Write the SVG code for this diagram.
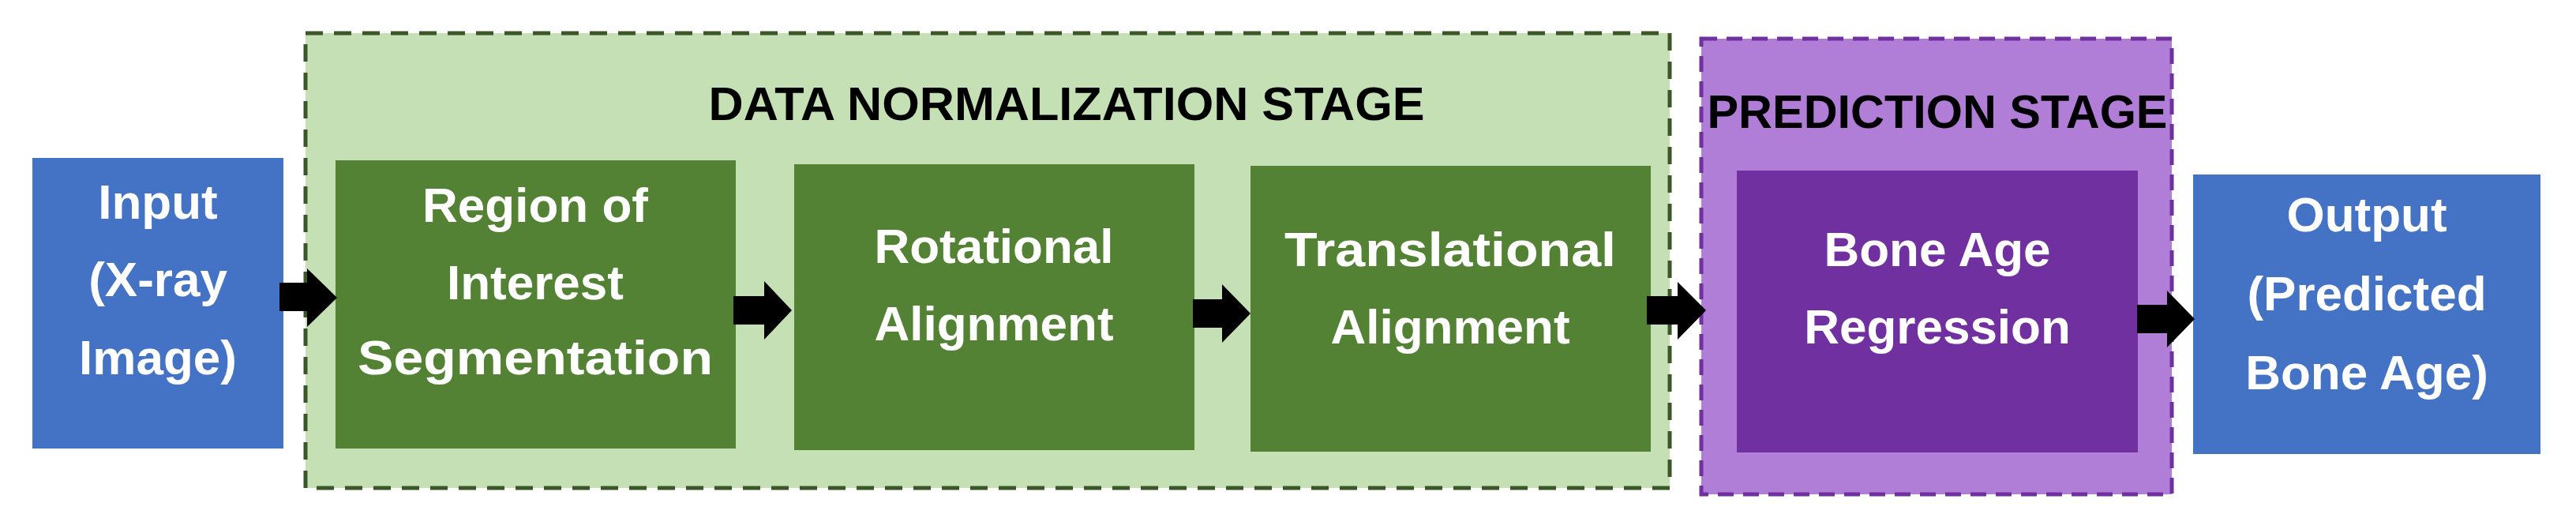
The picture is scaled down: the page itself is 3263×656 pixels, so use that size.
<svg xmlns="http://www.w3.org/2000/svg" width="3263" height="656" viewBox="0 0 3263 656">
<style>
text{font-family:"Liberation Sans",Arial,sans-serif;font-weight:bold;text-anchor:middle}
.n{fill:#fff;font-size:62px}
.t{fill:#000;font-size:60px}
.blue{fill:#4472C4}.green{fill:#548235}.purple{fill:#7030A0}
</style>
<rect width="3263" height="656" fill="#fff"/>
<g id="stage-norm">
<rect x="387" y="42" width="1728" height="576" fill="#C5E0B4" stroke="#3B5628" stroke-width="5" stroke-dasharray="22,14"/>
<text class="t" x="1351" y="152" textLength="907" lengthAdjust="spacingAndGlyphs">DATA NORMALIZATION STAGE</text>
</g>
<g id="stage-pred">
<rect x="2155" y="49" width="596" height="577" fill="#B07ED6" stroke="#7030A0" stroke-width="5" stroke-dasharray="20,12"/>
<text class="t" x="2454" y="162" textLength="583" lengthAdjust="spacingAndGlyphs">PREDICTION STAGE</text>
</g>
<g id="input"><rect class="blue" x="41" y="200" width="318" height="368"/>
<text class="n" x="200" y="277">Input</text><text class="n" x="200" y="375">(X-ray</text><text class="n" x="200" y="474">Image)</text></g>
<g id="roi"><rect class="green" x="425" y="203" width="507" height="365"/>
<text class="n" x="678" y="281">Region of</text><text class="n" x="678" y="379">Interest</text><text class="n" x="678" y="474" textLength="450" lengthAdjust="spacingAndGlyphs">Segmentation</text></g>
<g id="rot"><rect class="green" x="1006" y="208" width="507" height="362"/>
<text class="n" x="1259" y="333">Rotational</text><text class="n" x="1259" y="431">Alignment</text></g>
<g id="trans"><rect class="green" x="1584" y="210" width="507" height="362"/>
<text class="n" x="1837" y="337" textLength="420" lengthAdjust="spacingAndGlyphs">Translational</text><text class="n" x="1837" y="435">Alignment</text></g>
<g id="bone"><rect class="purple" x="2200" y="216" width="508" height="357"/>
<text class="n" x="2454" y="337">Bone Age</text><text class="n" x="2454" y="435">Regression</text></g>
<g id="output"><rect class="blue" x="2778" y="221" width="440" height="354"/>
<text class="n" x="2998" y="293">Output</text><text class="n" x="2998" y="393">(Predicted</text><text class="n" x="2998" y="493">Bone Age)</text></g>
<g id="connectors" fill="#000">
<polygon points="354,358 389,358 389,340 427,377 389,414 389,394 354,394"/>
<polygon points="929,375 968,375 968,356 1003,393 968,430 968,411 929,411"/>
<polygon points="1511,379 1548,379 1548,360 1584,397 1548,434 1548,415 1511,415"/>
<polygon points="2086,375 2125,375 2125,357 2161,393 2125,430 2125,411 2086,411"/>
<polygon points="2707,386 2745,386 2745,368 2780,404 2745,440 2745,422 2707,422"/>
</g>
</svg>
